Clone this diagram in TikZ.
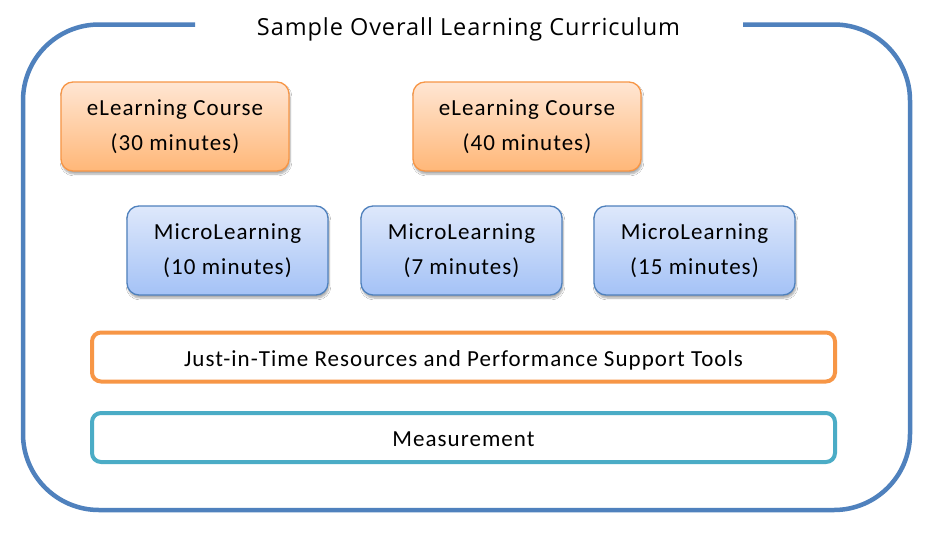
\documentclass[tikz,border=0pt]{standalone}
\usepackage{fontspec}
\setmainfont{Carlito}
\newfontfamily\boxfont[LetterSpace=4.5]{Carlito}
\newfontfamily\titlefont[LetterSpace=4]{Open Sans}
\usetikzlibrary{shadows.blur}
\definecolor{outerblue}{HTML}{4F81BD}
\definecolor{orbord}{HTML}{F79646}
\definecolor{ortop}{HTML}{FFE6D3}
\definecolor{orbot}{HTML}{FFB778}
\definecolor{blbord}{HTML}{4F81BD}
\definecolor{bltop}{HTML}{DEE8FB}
\definecolor{blbot}{HTML}{A4C2F6}
\definecolor{teal}{HTML}{4BACC6}
\tikzset{
  txt/.style={font=\boxfont\fontsize{23}{35}\selectfont, align=center, text=black},
  ebox/.style={txt, draw=orbord, line width=1.3pt, rounded corners=12pt,
    top color=ortop, bottom color=orbot, minimum width=228pt, minimum height=89pt,
    inner sep=0pt, blur shadow={shadow xshift=1pt, shadow yshift=-3pt, shadow blur steps=6, shadow opacity=35}},
  mbox/.style={txt, draw=blbord, line width=1.3pt, rounded corners=12pt,
    top color=bltop, bottom color=blbot, minimum width=201pt, minimum height=89pt,
    inner sep=0pt, blur shadow={shadow xshift=1pt, shadow yshift=-3pt, shadow blur steps=6, shadow opacity=35}},
  bar/.style={txt, line width=4pt, rounded corners=9pt, fill=white,
    minimum width=743pt, minimum height=49pt, inner sep=0pt,
    text height=18pt, text depth=0pt},
}
\begin{document}
\begin{tikzpicture}[x=1pt,y=-1pt]
\useasboundingbox (0,0) rectangle (940,536);
\fill[white] (0,0) rectangle (940,536);
\draw[outerblue, line width=4.5pt, rounded corners=76pt]
  (743,24.5) -- (910,24.5) -- (910,510) -- (23,510) -- (23,24.5) -- (195,24.5);
\node[txt, font=\titlefont\fontsize{23.5}{30}\selectfont] (title) at (468.5,29) {Sample Overall Learning Curriculum};
\node[ebox] (e1) at (175,126.5) {eLearning Course\\(30 minutes)};
\node[ebox] (e2) at (527,126.5) {eLearning Course\\(40 minutes)};
\node[mbox] (m1) at (227.5,250.5) {MicroLearning\\(10 minutes)};
\node[mbox] (m2) at (461.5,250.5) {MicroLearning\\(7 minutes)};
\node[mbox] (m3) at (694.5,250.5) {MicroLearning\\(15 minutes)};
\node[bar, draw=orbord] (jit) at (463.5,357) {Just-in-Time Resources and Performance Support Tools};
\node[bar, draw=teal] (meas) at (463.5,437.5) {Measurement};
\end{tikzpicture}
\end{document}
